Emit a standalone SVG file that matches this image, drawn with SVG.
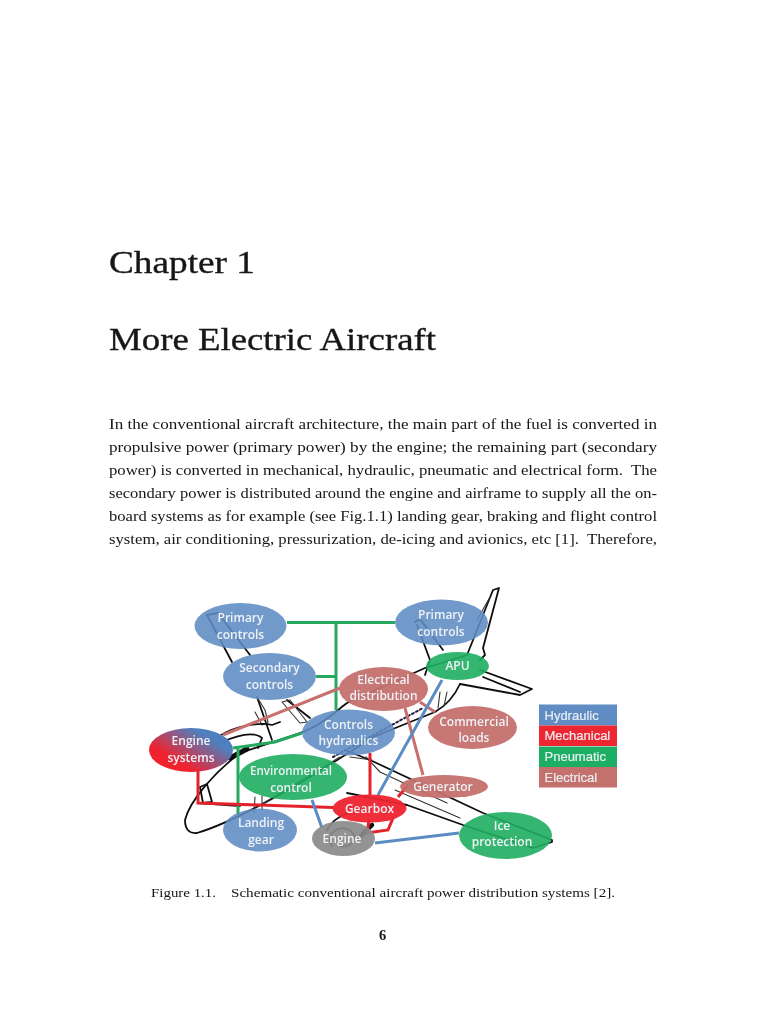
<svg xmlns="http://www.w3.org/2000/svg" width="768" height="1024" viewBox="0 0 768 1024">
<style>
.page{font-family:"Liberation Serif","DejaVu Serif",serif;fill:#161616;white-space:pre}
.b{font-size:15.5px}
.h{font-size:32px;stroke:#161616;stroke-width:.35}
.l{font-family:"Open Sans","Liberation Sans",sans-serif;font-size:12px;font-weight:600;fill:#eef2f6;text-anchor:middle}
.k{font-family:"Liberation Sans",sans-serif;font-size:13px;fill:#e9eef3;stroke:#e9eef3;stroke-width:.2}
.plane{fill:none;stroke:#111;stroke-width:1.8;stroke-linejoin:round;stroke-linecap:round}
.thin{stroke-width:1.1;stroke:#333}
.c{fill:none;stroke-width:3}
.gn{stroke:#25a95f}.rd{stroke:#e3242b}.el{stroke:#c9706e}.bl{stroke:#5b8cc4}
.nb{fill:#5f8cc3;fill-opacity:.88}.ne{fill:#c4706d;fill-opacity:.95}.ng{fill:#1fae62;fill-opacity:.9}
</style>
<defs>
<filter id="soft" x="-5%" y="-5%" width="110%" height="110%"><feGaussianBlur stdDeviation="0.45"/></filter>
<filter id="softer" x="-2%" y="-20%" width="104%" height="140%"><feGaussianBlur stdDeviation="0.25"/></filter>
<linearGradient id="eng" x1="0.1" y1="0.9" x2="0.9" y2="0.2"><stop offset="0.25" stop-color="#f0222e"/><stop offset="0.85" stop-color="#4f7fbf"/></linearGradient>
</defs>
<rect width="768" height="1024" fill="#fff"/>
<g id="page-text" filter="url(#softer)">
<text class="page h" x="109" y="273" textLength="146" lengthAdjust="spacingAndGlyphs">Chapter 1</text>
<text class="page h" x="109" y="350" textLength="327" lengthAdjust="spacingAndGlyphs">More Electric Aircraft</text>
<text class="page b" x="109" y="429" textLength="548" lengthAdjust="spacingAndGlyphs">In the conventional aircraft architecture, the main part of the fuel is converted in</text>
<text class="page b" x="109" y="452" textLength="548" lengthAdjust="spacingAndGlyphs">propulsive power (primary power) by the engine; the remaining part (secondary</text>
<text class="page b" x="109" y="475" textLength="548" lengthAdjust="spacingAndGlyphs">power) is converted in mechanical, hydraulic, pneumatic and electrical form.  The</text>
<text class="page b" x="109" y="498" textLength="548" lengthAdjust="spacingAndGlyphs">secondary power is distributed around the engine and airframe to supply all the on-</text>
<text class="page b" x="109" y="521" textLength="548" lengthAdjust="spacingAndGlyphs">board systems as for example (see Fig.1.1) landing gear, braking and flight control</text>
<text class="page b" x="109" y="544" textLength="548" lengthAdjust="spacingAndGlyphs">system, air conditioning, pressurization, de-icing and avionics, etc [1].  Therefore,</text>
<text class="page" font-size="13.5" x="151" y="897" textLength="65" lengthAdjust="spacingAndGlyphs">Figure 1.1.</text>
<text class="page" font-size="13.5" x="231" y="897" textLength="384" lengthAdjust="spacingAndGlyphs">Schematic conventional aircraft power distribution systems [2].</text>
<text class="page" font-size="14.5" font-weight="700" x="379" y="940">6</text>
</g>
<g id="figure" filter="url(#soft)">
<g id="airplane" class="plane">
<path d="M300 733L240 753C215 772 190 800 185 820C185 830 190 834 197 833C240 820 300 785 373 737L435 712C447 705 455 695 460 684"/>
<path d="M300 733C320 726 335 712 347 703L425 668L435 665L467 655L493 590L499 588L483 648L485 655L480 660"/>
<path class="thin" d="M477 620L490 597"/>
<path d="M480 670L532 689L520 695L460 684M483 677L520 692"/>
<path d="M415 622L420 619L443 650M417 625L430 660L425 675"/>
<path class="thin" d="M440 692L438 708M447 692L444 706"/>
<path d="M207 615L218 613L250 655M207 615L232 662M257 697L272 740M287 700L310 718"/>
<path class="thin" d="M257 697L265 710L268 722L262 725L255 712M282 702L290 700L307 722L300 723Z"/>
<path d="M345 750L370 760L483 813L552 840L552 842L533 848L463 825L407 805M347 793L407 805"/>
<path class="thin" d="M366 757L380 772L447 803M395 790L460 818M350 757L372 760"/>
<path d="M218 737C235 725 262 722 272 725L280 722M222 742C240 734 255 732 262 738L258 748"/>
<path stroke-width="5" d="M230 758L247 749"/>
<path d="M200 787L207 784L212 802L203 803ZM199 803L240 806"/>
<path class="thin" d="M255 797L254 812M262 796L262 811"/>
<path d="M327 830C332 820 340 816 348 813M332 846C324 834 340 822 352 832C358 840 350 848 340 846"/>
<path stroke-width="4.500" d="M361 836L372 825"/>
<path stroke="#224" stroke-dasharray="2 2.500" stroke-width="2" d="M333 757L423 708"/>
<path class="thin" d="M257 807L340 757"/>
</g>
<g id="connectors">
<path class="c gn" d="M287 622.500H395M336 622.500V710M316 676.500H336M302 733L275 742L233 748M238 748V815"/>
<path class="c rd" d="M198 770V803L333 807.500M370 753V795M369 820L367 833L388 830L393 818M398 797L408 785"/>
<path class="c el" d="M340 688L223 735M420 702L435 712M405 708L423 775"/>
<path class="c bl" d="M442 680L378 795M312 800L322 828M375 843L459 833"/>
</g>
<g id="n-primary-left"><ellipse class="nb" cx="240.500" cy="626" rx="46" ry="23"/><text class="l" x="240.500" y="622">Primary</text><text class="l" x="240.500" y="639">controls</text></g>
<g id="n-secondary"><ellipse class="nb" cx="269.500" cy="676.500" rx="46.500" ry="23.500"/><text class="l" x="269.500" y="672">Secondary</text><text class="l" x="269.500" y="689">controls</text></g>
<g id="n-electrical"><ellipse class="ne" cx="383.500" cy="689" rx="44.500" ry="22"/><text class="l" x="383.500" y="684">Electrical</text><text class="l" x="383.500" y="700">distribution</text></g>
<g id="n-controls-hydraulics"><ellipse class="nb" cx="348.500" cy="732.500" rx="46.500" ry="23"/><text class="l" x="348.500" y="729">Controls</text><text class="l" x="348.500" y="745">hydraulics</text></g>
<g id="n-engine-systems"><ellipse fill="url(#eng)" cx="191" cy="750" rx="42" ry="22"/><text class="l" x="191" y="745">Engine</text><text class="l" x="191" y="762">systems</text></g>
<g id="n-environmental"><ellipse class="ng" cx="293" cy="777" rx="54" ry="23"/><text class="l" x="291" y="775" textLength="82" lengthAdjust="spacingAndGlyphs">Environmental</text><text class="l" x="291" y="792">control</text></g>
<g id="n-gearbox"><ellipse fill="#ee2530" fill-opacity=".95" cx="369.500" cy="808.500" rx="37" ry="14"/><text class="l" x="369.500" y="812.500">Gearbox</text></g>
<g id="n-landing-gear"><ellipse class="nb" cx="260" cy="830" rx="37" ry="21.500"/><text class="l" x="261" y="827">Landing</text><text class="l" x="261" y="844">gear</text></g>
<g id="n-engine"><ellipse fill="#8a8a8a" fill-opacity=".92" cx="343.500" cy="838.500" rx="31.500" ry="17.500"/><text class="l" x="342" y="843">Engine</text></g>
<g id="n-primary-right"><ellipse class="nb" cx="441.500" cy="622.500" rx="46.500" ry="23"/><text class="l" x="441" y="619">Primary</text><text class="l" x="441" y="636">controls</text></g>
<g id="n-apu"><ellipse class="ng" cx="457.500" cy="666" rx="31.500" ry="14"/><text class="l" x="457.500" y="670">APU</text></g>
<g id="n-commercial"><ellipse class="ne" cx="472.500" cy="727.500" rx="44.500" ry="21.500"/><text class="l" x="474" y="726">Commercial</text><text class="l" x="474" y="742">loads</text></g>
<g id="n-generator"><ellipse class="ne" cx="444" cy="786.500" rx="44" ry="11.500"/><text class="l" x="443" y="790.500">Generator</text></g>
<g id="n-ice"><ellipse class="ng" cx="505.500" cy="835.500" rx="46.500" ry="23.500"/><text class="l" x="502" y="830">Ice</text><text class="l" x="502" y="846">protection</text></g>
<g id="legend">
<rect x="539" y="704.500" width="78" height="21" fill="#5f8cc3"/><text class="k" x="544.500" y="719.500">Hydraulic</text>
<rect x="539" y="725.500" width="78" height="20.500" fill="#ee2530"/><text class="k" x="544.500" y="740">Mechanical</text>
<rect x="539" y="746.500" width="78" height="20.500" fill="#1fae62"/><text class="k" x="544.500" y="761">Pneumatic</text>
<rect x="539" y="767" width="78" height="20.500" fill="#c4706d"/><text class="k" x="544.500" y="782">Electrical</text>
</g>
</g>
</svg>
